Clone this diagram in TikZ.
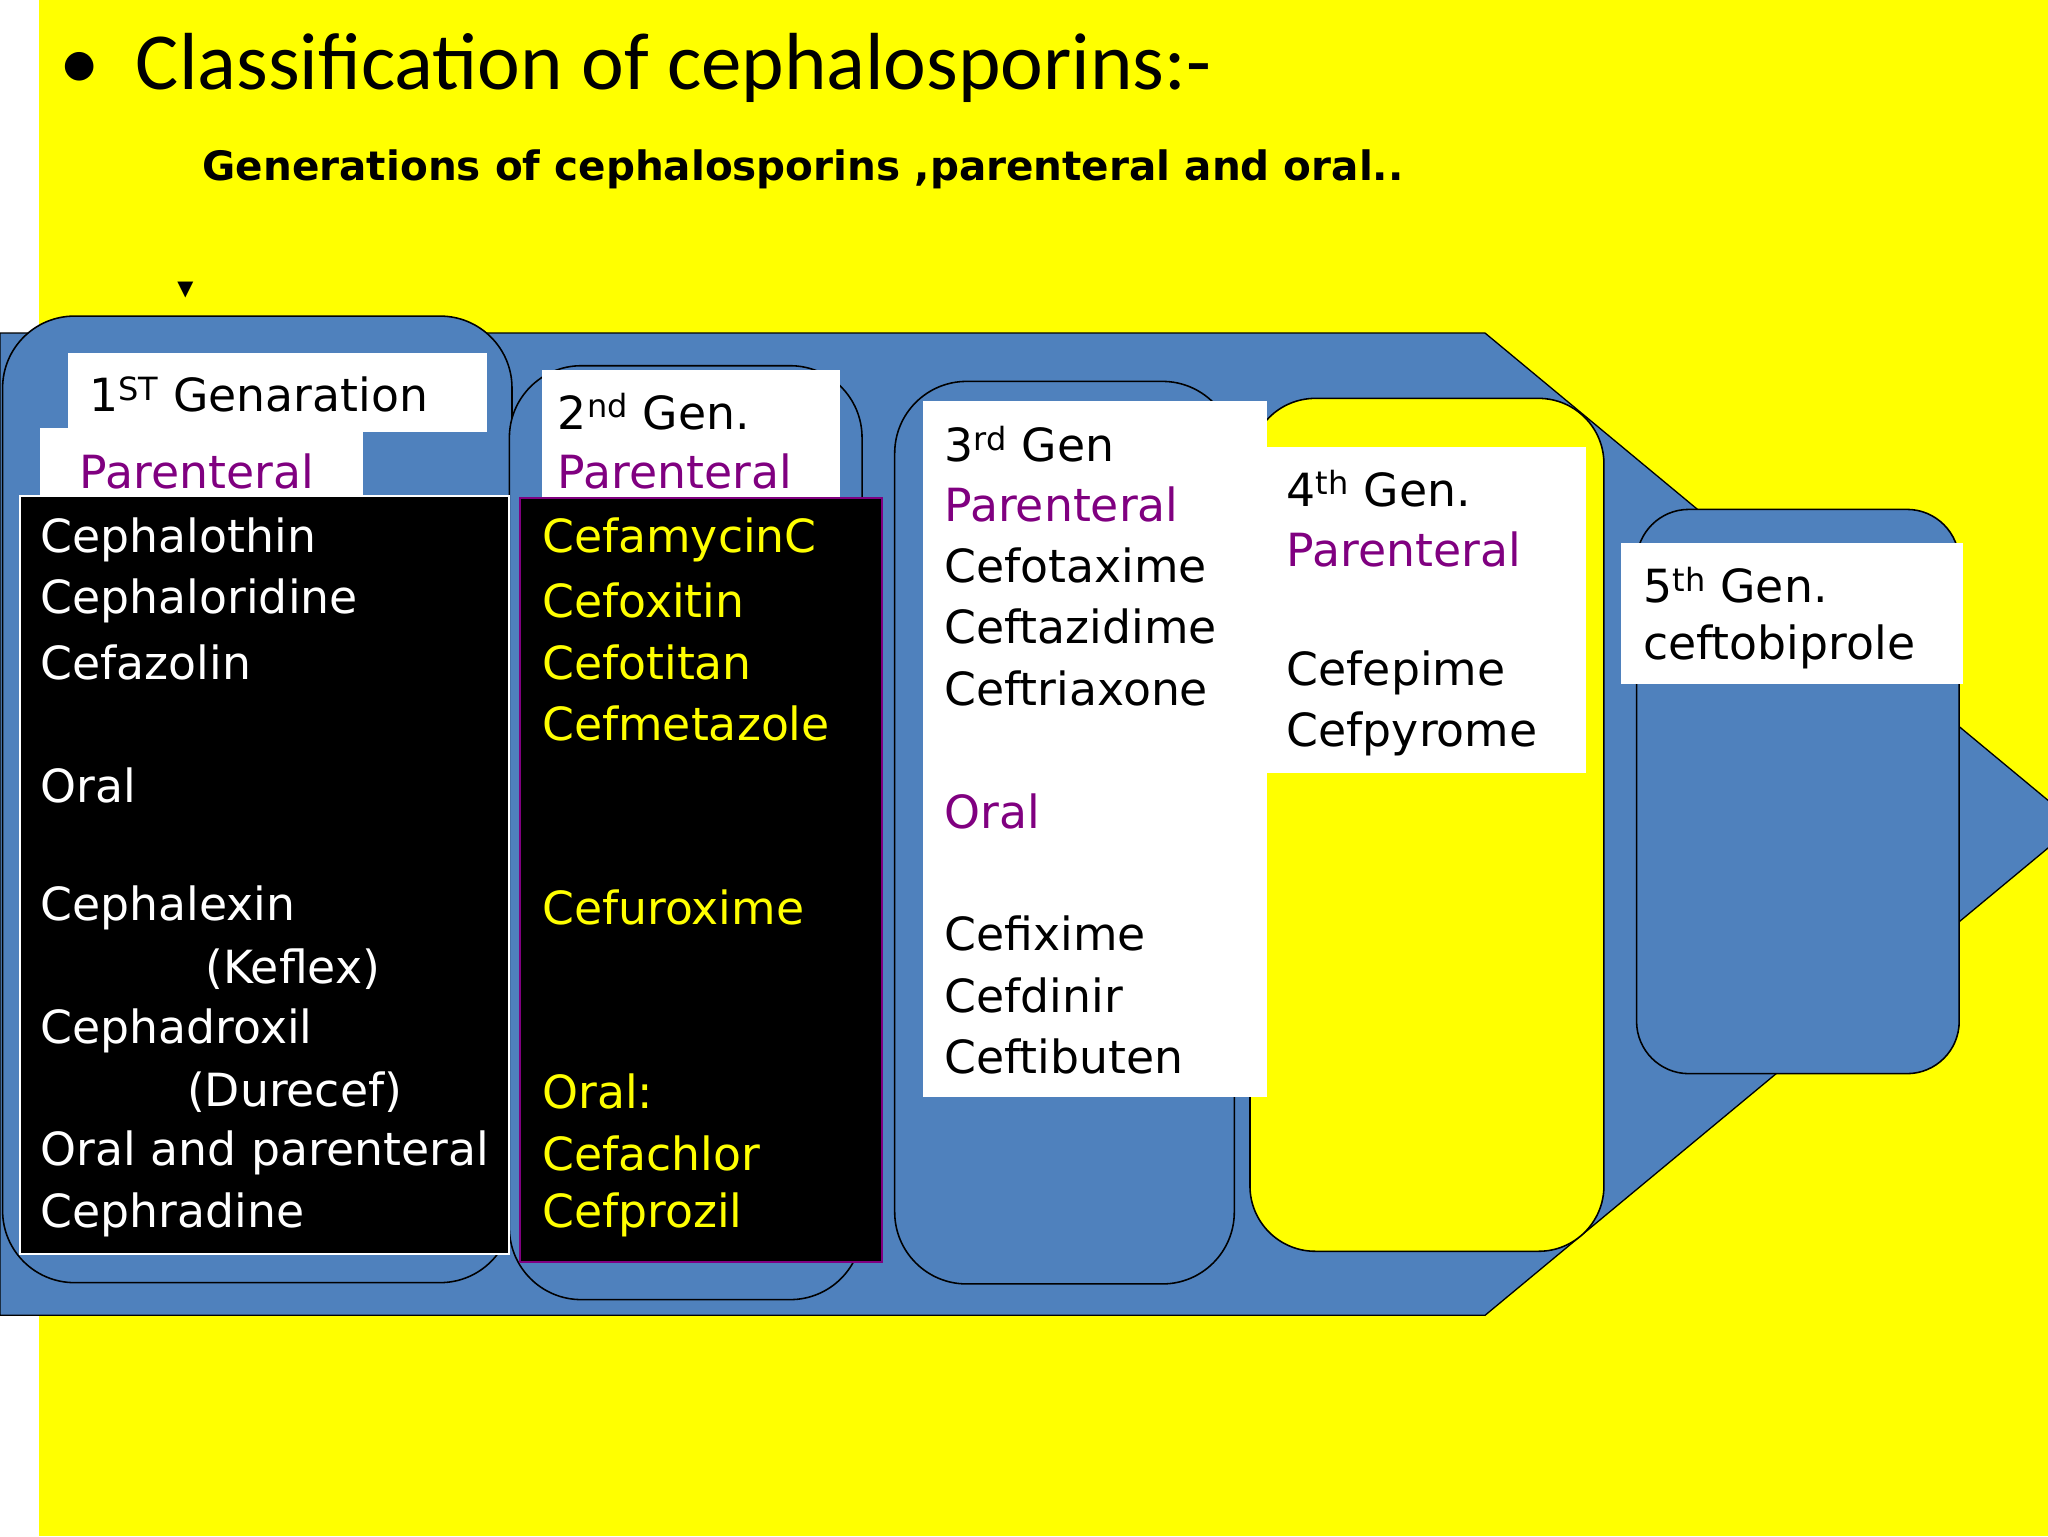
\documentclass[tikz,border=0pt]{standalone}
\usepackage{fontspec}
\setmainfont{DejaVu Sans}
\newfontfamily\titlefont{Carlito}
\definecolor{bg}{HTML}{FFFF00}
\definecolor{bl}{HTML}{4F81BD}
\definecolor{pur}{HTML}{800080}
\tikzset{
 gen/.style={draw=black,line width=1.2pt,rounded corners=55pt},
 wbox/.style={fill=white,draw=none},
 t/.style={anchor=west,inner sep=0pt,font=\fontsize{35}{42}\selectfont},
}
\begin{document}
\begin{tikzpicture}[x=1pt,y=-1pt]
\useasboundingbox (0,0) rectangle (1568,1176);
\fill[white] (0,0) rectangle (1568,1176);
\fill[bg] (30,0) rectangle (1568,1176);
% title
\node[anchor=west,inner sep=0pt,font=\titlefont\fontsize{62}{70}\selectfont] (title) at (45,52) {•\hspace{28pt}Classification of cephalosporins:-};
\node[anchor=west,inner sep=0pt,font=\bfseries\fontsize{31}{36}\selectfont] (sub) at (155,130) {Generations of cephalosporins ,parenteral and oral..};
\node[inner sep=0pt,font=\fontsize{16}{16}\selectfont] (mark) at (142,222) {▼};
% arrow
\draw[fill=bl,line width=1pt] (0,255) -- (1137,255) -- (1590,631) -- (1137,1007) -- (0,1007) -- cycle;
% generation boxes
\draw[gen,fill=bl] (2,242) rectangle (392,982);
\draw[gen,fill=bl] (390,280) rectangle (660,995);
\draw[gen,fill=bl] (685,292) rectangle (945,983);
\draw[gen,fill=bg,rounded corners=50pt] (957,305) rectangle (1228,958);
\draw[gen,fill=bl,rounded corners=40pt] (1253,390) rectangle (1500,822);
% gen 1
\fill[wbox] (52,270) rectangle (373,331);
\fill[wbox] (31,328) rectangle (278,382);
\draw[fill=black,draw=white,line width=1.5pt] (15,380) rectangle (390,960);
\node[t] (g1h) at (68,302) {1\textsuperscript{ST} Genaration};
\node[t,text=pur] (g1p) at (61,361) {Parenteral};
\begin{scope}[every node/.style={t,text=white}]
\node (a1) at (31,413) {Cephalothin};
\node (a2) at (31,460) {Cephaloridine};
\node (a3) at (31,507) {Cefazolin};
\node (a4) at (31,601) {Oral};
\node (a5) at (31,695) {Cephalexin};
\node (a6) at (157,742) {(Keflex)};
\node (a7) at (31,789) {Cephadroxil};
\node (a8) at (143,836) {(Durecef)};
\begin{scope}
\clip (0,850) rectangle (395,915);
\node (a9) at (31,883) {Oral and parenteral};
\end{scope}
\node (a10) at (31,930) {Cephradine};
\end{scope}
% gen 2
\fill[wbox] (415,283) rectangle (643,382);
\draw[fill=black,draw=pur,line width=1.5pt] (398,381) rectangle (675,966);
\node[t] (g2h) at (427,315) {2\textsuperscript{nd} Gen.};
\node[t,text=pur] (g2p) at (427,361) {Parenteral};
\begin{scope}[every node/.style={t,text=bg}]
\node (b1) at (415,413) {CefamycinC};
\node (b2) at (415,460) {Cefoxitin};
\node (b3) at (415,507) {Cefotitan};
\node (b4) at (415,554) {Cefmetazole};
\node (b5) at (415,695) {Cefuroxime};
\node (b6) at (415,836) {Oral:};
\node (b7) at (415,883) {Cefachlor};
\node (b8) at (415,930) {Cefprozil};
\end{scope}
% gen 3
\fill[wbox] (707,307) rectangle (970,840);
\node[t] (c0) at (723,340) {3\textsuperscript{rd} Gen};
\node[t,text=pur] (c1) at (723,386) {Parenteral};
\node[t] (c2) at (723,433) {Cefotaxime};
\node[t] (c3) at (723,480) {Ceftazidime};
\node[t] (c4) at (723,527) {Ceftriaxone};
\node[t,text=pur] (c5) at (723,621) {Oral};
\node[t] (c6) at (723,715) {Cefixime};
\node[t] (c7) at (723,762) {Cefdinir};
\node[t] (c8) at (723,809) {Ceftibuten};
% gen 4
\fill[wbox] (970,342) rectangle (1214,592);
\node[t] (d0) at (985,374) {4\textsuperscript{th} Gen.};
\node[t,text=pur] (d1) at (985,421) {Parenteral};
\node[t] (d2) at (985,515) {Cefepime};
\node[t] (d3) at (985,562) {Cefpyrome};
% gen 5
\fill[wbox] (1241,416) rectangle (1503,524);
\node[t] (e0) at (1258,448) {5\textsuperscript{th} Gen.};
\node[t] (e1) at (1258,495) {ceftobiprole};
\end{tikzpicture}
\end{document}
